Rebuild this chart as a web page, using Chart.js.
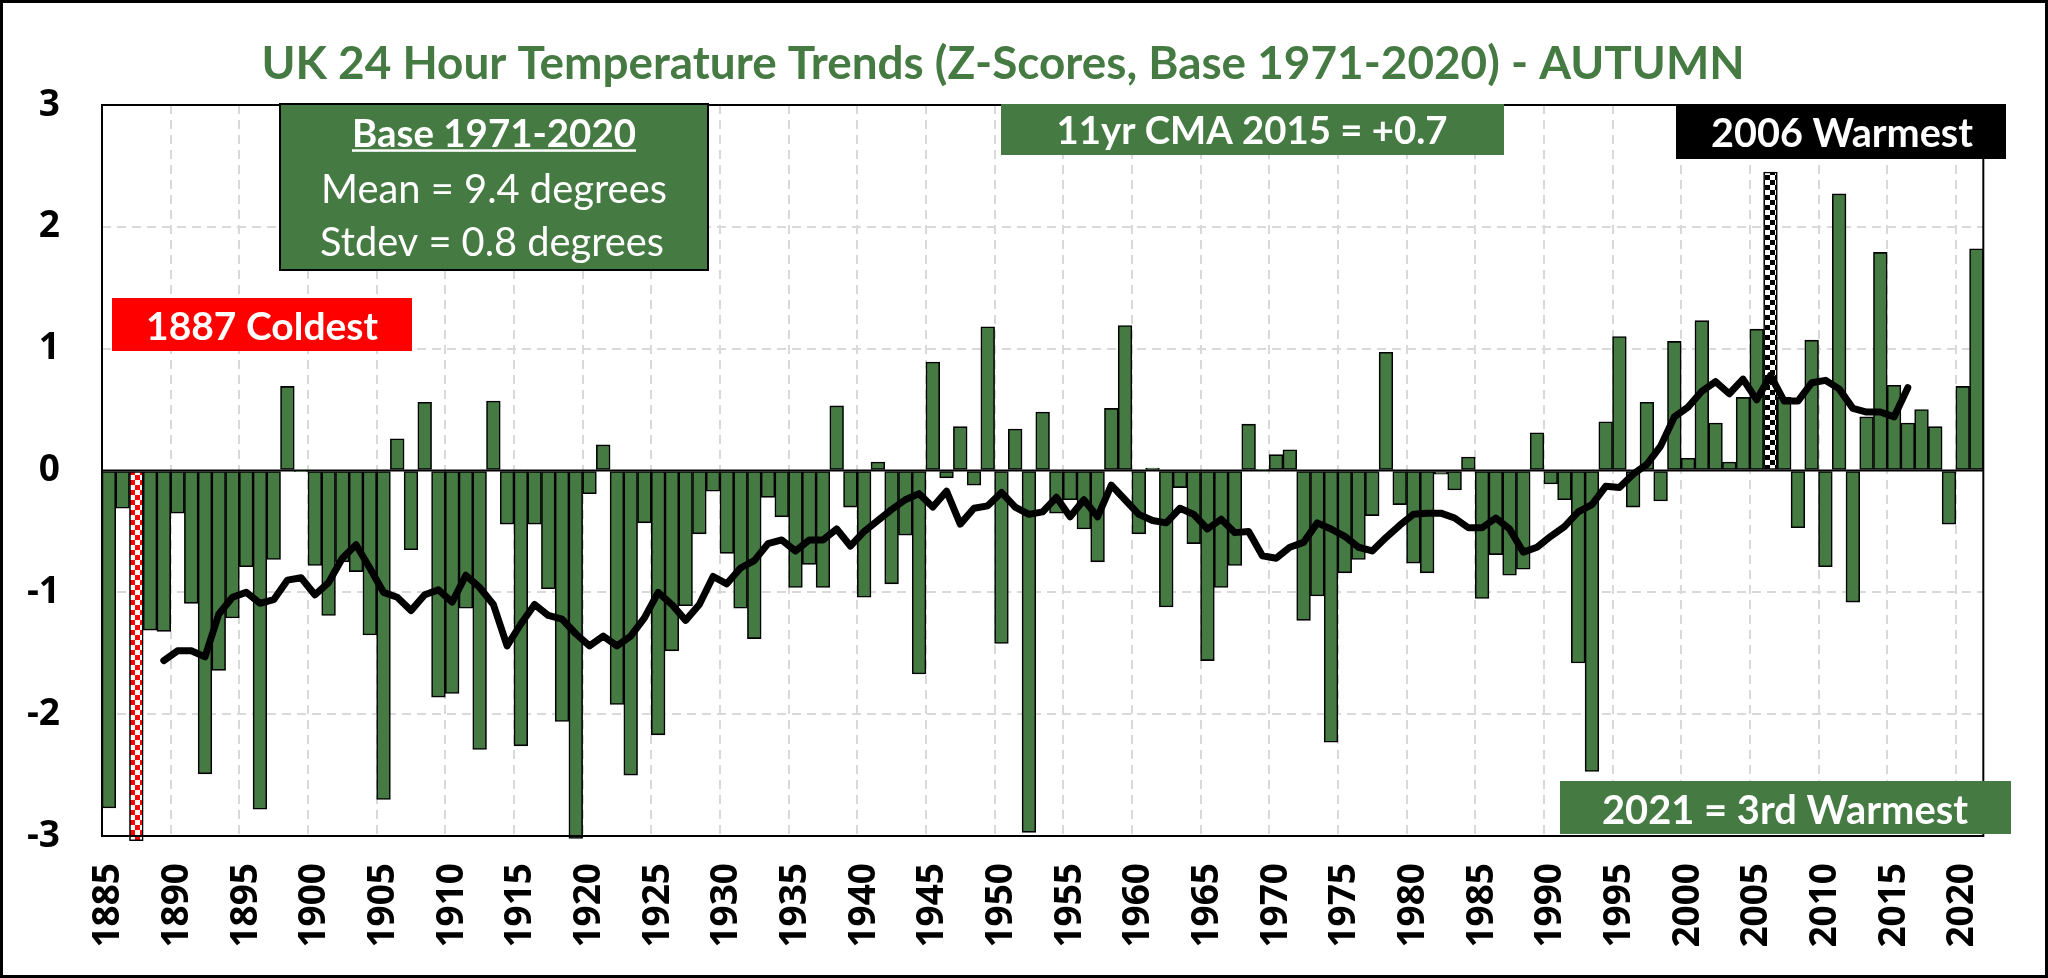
<!DOCTYPE html>
<html>
<head>
<meta charset="utf-8">
<title>UK 24 Hour Temperature Trends - AUTUMN</title>
<script src="https://cdn.jsdelivr.net/npm/chart.js@4.4.1/dist/chart.umd.min.js"></script>
<style>
	html, body { margin: 0; padding: 0; background: #fff; }
	canvas { display: block; }
</style>
</head>
<body>
<canvas id="chart" width="2048" height="978"></canvas>
<script>
// Years on the category axis
const firstYear = 1885;
const lastYear = 2021;
const years = [];
for (let y = firstYear; y <= lastYear; y++) years.push(String(y));

// Autumn z-scores, one per year 1885..2021
const zScores = [
	-2.77, -0.31, -3.04, -1.31, -1.32, -0.35, -1.09, -2.49, -1.64, -1.21, // 1885-1894
	-0.79, -2.78, -0.73, 0.69, -0.01, -0.78, -1.19, -0.75, -0.83, -1.35, // 1895-1904
	-2.70, 0.26, -0.65, 0.56, -1.86, -1.83, -1.13, -2.29, 0.57, -0.44, // 1905-1914
	-2.26, -0.44, -0.97, -2.06, -3.02, -0.19, 0.21, -1.92, -2.50, -0.43, // 1915-1924
	-2.17, -1.48, -1.11, -0.52, -0.17, -0.68, -1.13, -1.38, -0.22, -0.38, // 1925-1934
	-0.96, -0.77, -0.96, 0.53, -0.30, -1.04, 0.07, -0.93, -0.53, -1.67, // 1935-1944
	0.89, -0.06, 0.36, -0.12, 1.18, -1.42, 0.34, -2.97, 0.48, -0.35, // 1945-1954
	-0.24, -0.48, -0.75, 0.51, 1.19, -0.52, 0.02, -1.12, -0.14, -0.60, // 1955-1964
	-1.56, -0.96, -0.78, 0.38, 0.01, 0.13, 0.17, -1.23, -1.03, -2.23, // 1965-1974
	-0.84, -0.73, -0.37, 0.97, -0.28, -0.76, -0.84, -0.03, -0.16, 0.11, // 1975-1984
	-1.05, -0.69, -0.86, -0.81, 0.31, -0.11, -0.24, -1.58, -2.47, 0.40, // 1985-1994
	1.10, -0.30, 0.56, -0.25, 1.06, 0.10, 1.23, 0.39, 0.07, 0.60, // 1995-2004
	1.16, 2.45, 0.60, -0.47, 1.07, -0.79, 2.27, -1.08, 0.44, 1.79, // 2005-2014
	0.70, 0.39, 0.50, 0.36, -0.44, 0.69, 1.82 // 2015-2021
];

// 11 year centred moving average, 1889..2016
const cmaStartYear = 1889;
const cma11 = [
	-1.56, -1.48, -1.48, -1.53, -1.18, -1.04, -1.00, -1.09, -1.06, -0.90, // 1889-1898
	-0.88, -1.02, -0.92, -0.72, -0.61, -0.80, -1.00, -1.04, -1.15, -1.02, // 1899-1908
	-0.98, -1.08, -0.86, -0.96, -1.10, -1.44, -1.26, -1.10, -1.19, -1.22, // 1909-1918
	-1.34, -1.44, -1.36, -1.44, -1.36, -1.21, -1.00, -1.10, -1.23, -1.10, // 1919-1928
	-0.87, -0.93, -0.80, -0.74, -0.60, -0.57, -0.66, -0.57, -0.57, -0.48, // 1929-1938
	-0.62, -0.50, -0.41, -0.32, -0.24, -0.19, -0.30, -0.17, -0.44, -0.31, // 1939-1948
	-0.29, -0.18, -0.30, -0.36, -0.34, -0.22, -0.38, -0.24, -0.38, -0.12, // 1949-1958
	-0.24, -0.36, -0.41, -0.43, -0.31, -0.36, -0.48, -0.40, -0.51, -0.50, // 1959-1968
	-0.70, -0.72, -0.63, -0.59, -0.43, -0.48, -0.54, -0.63, -0.66, -0.55, // 1969-1978
	-0.45, -0.36, -0.35, -0.35, -0.39, -0.47, -0.47, -0.39, -0.48, -0.67, // 1979-1988
	-0.63, -0.54, -0.46, -0.34, -0.28, -0.13, -0.14, -0.03, 0.05, 0.20, // 1989-1998
	0.44, 0.52, 0.65, 0.73, 0.63, 0.75, 0.58, 0.78, 0.57, 0.57, // 1999-2008
	0.72, 0.74, 0.67, 0.51, 0.48, 0.48, 0.44, 0.68 // 2009-2016
];

const coldestYear = "1887";
const warmestYear = "2006";

const titleText = "UK 24 Hour Temperature Trends (Z-Scores, Base 1971-2020) - AUTUMN";

const GREEN = "#467A43";
const FONT = "Lato";
const TICK_FONT = "'Open Sans'";

// text boxes placed over the chart (canvas pixels)
const notes = [
	{
		x0: 280, y0: 104, x1: 708, y1: 270, fill: GREEN, stroke: "#000",
		lines: [
			{ text: "Base 1971-2020", bold: true, underline: true, cx: 494, cy: 133, w: 284 },
			{ text: "Mean = 9.4 degrees", bold: false, cx: 494, cy: 188, w: 346 },
			{ text: "Stdev = 0.8 degrees", bold: false, cx: 492, cy: 241, w: 344 },
		],
	},
	{
		x0: 1001, y0: 104, x1: 1504, y1: 155, fill: GREEN,
		lines: [{ text: "11yr CMA 2015 = +0.7", bold: true, cx: 1252, cy: 130, w: 391 }],
	},
	{
		x0: 1676, y0: 104, x1: 2006, y1: 159, fill: "#000",
		lines: [{ text: "2006 Warmest", bold: true, cx: 1842, cy: 132, w: 262 }],
	},
	{
		x0: 112, y0: 298, x1: 412, y1: 351, fill: "#FF0000",
		lines: [{ text: "1887 Coldest", bold: true, cx: 262, cy: 326, w: 232 }],
	},
	{
		x0: 1560, y0: 781, x1: 2011, y1: 834, fill: GREEN,
		lines: [{ text: "2021 = 3rd Warmest", bold: true, cx: 1785, cy: 809, w: 366 }],
	},
];

const measureCtx = document.createElement("canvas").getContext("2d");

/**
 * Font size that makes the text as wide as the given width
 */
function fitSize(text, bold, width) {
	measureCtx.font = (bold ? "bold " : "") + "100px " + FONT;
	return (100 * width) / measureCtx.measureText(text).width;
}

const canvas = document.getElementById("chart");
const ctx = canvas.getContext("2d");

function checker(c1, c2, s) {
	const tile = document.createElement("canvas");
	tile.width = tile.height = 2 * s;
	const g = tile.getContext("2d");
	g.fillStyle = c2;
	g.fillRect(0, 0, 2 * s, 2 * s);
	g.fillStyle = c1;
	g.fillRect(0, 0, s, s);
	g.fillRect(s, s, s, s);
	return ctx.createPattern(tile, "repeat");
}

const coldPattern = checker("#FF0000", "#FFFFFF", 5);
const warmPattern = checker("#000000", "#FFFFFF", 5);

const cmaData = years.map((y) => {
	const i = Number(y) - cmaStartYear;
	return i >= 0 && i < cma11.length ? cma11[i] : null;
});

const titleSize = fitSize(titleText, true, 1484);
const titleTop = 62 - titleSize * 0.6 + 2;
const titleBottom = 105 - titleTop - titleSize * 1.2;

const framePlugin = {
	id: "frame",
	beforeDatasetsDraw(chart) {
		const { ctx: c, chartArea: a, scales } = chart;
		const y0 = scales.y.getPixelForValue(0);
		c.save();
		c.strokeStyle = "#000";
		c.lineWidth = 2;
		c.beginPath();
		c.moveTo(a.left, y0);
		c.lineTo(a.right, y0);
		c.stroke();
		c.restore();
	},
	afterDatasetsDraw(chart) {
		const { ctx: c, chartArea: a } = chart;
		c.save();
		c.strokeStyle = "#000";
		c.lineWidth = 2;
		c.strokeRect(a.left, a.top, a.right - a.left, a.bottom - a.top);

		notes.forEach((n) => {
			c.fillStyle = n.fill;
			c.fillRect(n.x0, n.y0, n.x1 - n.x0, n.y1 - n.y0);
			if (n.stroke) {
				c.strokeStyle = n.stroke;
				c.lineWidth = 2;
				c.strokeRect(n.x0, n.y0, n.x1 - n.x0, n.y1 - n.y0);
			}
			n.lines.forEach((l) => {
				const size = fitSize(l.text, l.bold, l.w);
				c.font = (l.bold ? "bold " : "") + size + "px " + FONT;
				c.fillStyle = "#FFFFFF";
				c.textAlign = "center";
				c.textBaseline = "alphabetic";
				const cap = c.measureText("H").actualBoundingBoxAscent;
				const base = l.cy + cap / 2;
				c.fillText(l.text, l.cx, base);
				if (l.underline) {
					c.fillRect(l.cx - l.w / 2, base + size * 0.06, l.w, 2.5);
				}
			});
		});

		// outer frame of the picture
		c.strokeStyle = "#000";
		c.lineWidth = 3;
		c.strokeRect(1.5, 1.5, chart.width - 3, chart.height - 3);
		c.restore();
	},
};

const gridGrey = "#D9D9D9";

new Chart(ctx, {
	type: "bar",
	data: {
		labels: years,
		datasets: [
			{
				type: "line",
				label: "11yr CMA",
				data: cmaData,
				borderColor: "#000",
				borderWidth: 7,
				pointRadius: 0,
				tension: 0,
				borderJoinStyle: "round",
				borderCapStyle: "round",
				order: 0,
			},
			{
				label: "Z-Score",
				data: zScores,
				backgroundColor: (c) => {
					const y = years[c.dataIndex];
					if (y === coldestYear) return coldPattern;
					if (y === warmestYear) return warmPattern;
					return GREEN;
				},
				borderColor: "#000",
				borderWidth: 1.6,
				borderSkipped: false,
				barPercentage: 1,
				categoryPercentage: 1,
				clip: 5,
				order: 1,
			},
		],
	},
	options: {
		responsive: false,
		devicePixelRatio: 1,
		animation: false,
		layout: { padding: { left: 0, right: 42, top: 0, bottom: 0 } },
		plugins: {
			legend: { display: false },
			tooltip: { enabled: false },
			title: {
				display: true,
				text: titleText,
				color: GREEN,
				font: { family: FONT, weight: "bold", size: titleSize },
				padding: { top: titleTop, bottom: titleBottom },
			},
		},
		scales: {
			x: {
				offset: true,
				grid: {
					offset: true,
					drawTicks: false,
					lineWidth: 2,
					color: (c) =>
						c.index > 0 && Number(years[c.index]) % 5 === 0 ? gridGrey : "transparent",
				},
				border: { display: false, dash: [9, 6] },
				ticks: {
					autoSkip: false,
					maxRotation: 90,
					minRotation: 90,
					padding: 27,
					color: "#000",
					font: { family: TICK_FONT, weight: "bold", size: 37 },
					callback: (v, i) => (Number(years[i]) % 5 === 0 ? years[i] : ""),
				},
				afterFit: (s) => {
					s.height = 142;
				},
			},
			y: {
				min: -3,
				max: 3,
				grid: {
					drawTicks: false,
					lineWidth: 2,
					color: (c) =>
						c.tick && [1, 2, -1, -2].includes(c.tick.value) ? gridGrey : "transparent",
				},
				border: { display: false, dash: [9, 6] },
				ticks: {
					stepSize: 1,
					padding: 42,
					color: "#000",
					font: { family: TICK_FONT, weight: "bold", size: 37 },
				},
				afterFit: (s) => {
					s.width = 102;
				},
			},
		},
	},
	plugins: [framePlugin],
});
</script>
</body>
</html>
